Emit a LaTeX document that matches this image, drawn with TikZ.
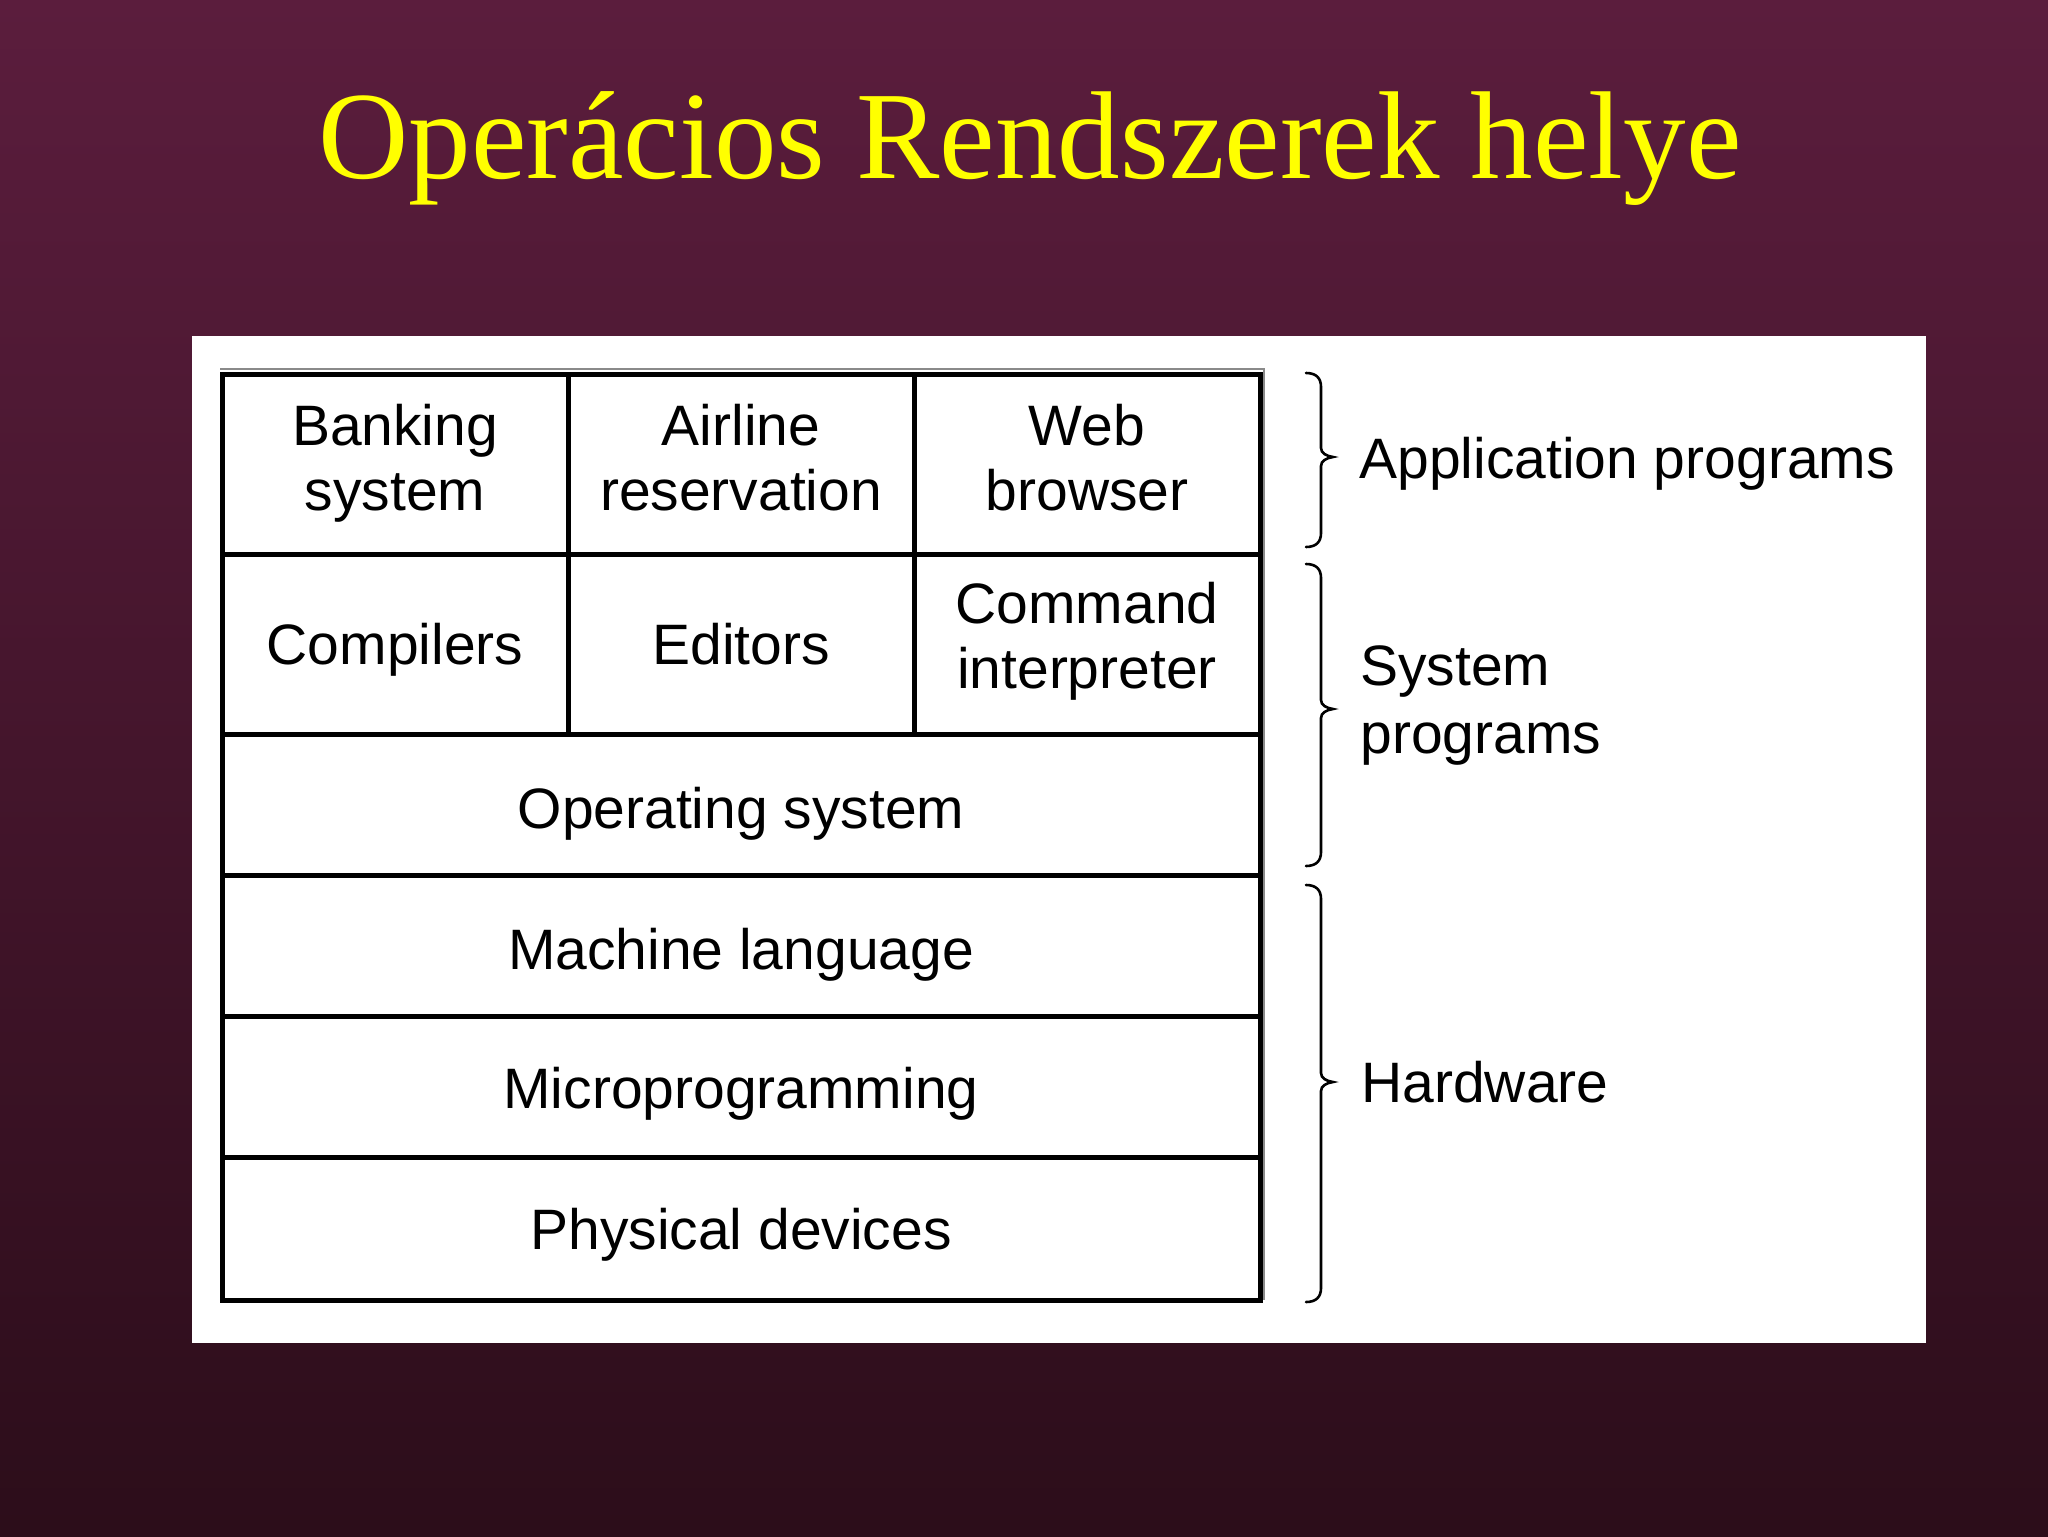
\documentclass[tikz,border=0pt]{standalone}
\usepackage{fontspec}
\setmainfont{Liberation Serif}
\newfontfamily\arialf{Liberation Sans}
\definecolor{bgtop}{HTML}{5B1D3D}
\definecolor{bgmid}{HTML}{46162E}
\definecolor{bgbot}{HTML}{2C0D1A}
\definecolor{titleyellow}{HTML}{FFFF00}
\definecolor{shadowgray}{HTML}{8A8A8A}
\newcommand\mybrace[3]{%
  \draw[bracestyle] (1306,#1) .. controls (1316,#1) and (1321,{#1+5}) .. (1321,{#1+14})
    -- (1321,{#2-9}) .. controls (1321,{#2-4}) and (1326,{#2-1}) .. (1333,#2)
    .. controls (1326,{#2+1}) and (1321,{#2+4}) .. (1321,{#2+9})
    -- (1321,{#3-14}) .. controls (1321,{#3-5}) and (1316,#3) .. (1306,#3);}
\begin{document}
\begin{tikzpicture}[x=0.5pt,y=-0.5pt,
  gridline/.style={line width=2.5pt,black},
  bracestyle/.style={line width=1.3pt,black,line cap=round},
  celltext/.style={anchor=base,inner sep=0pt,font=\arialf\fontsize{28.5}{32.5}\selectfont},
  sidelabel/.style={anchor=base west,inner sep=0pt,font=\arialf\fontsize{28.5}{34}\selectfont},
  titletext/.style={anchor=base,inner sep=0pt,text=titleyellow,font=\fontsize{62.5}{70}\selectfont}]
\useasboundingbox (0,0) rectangle (2048,1536);
\shade[top color=bgtop,middle color=bgmid,bottom color=bgbot] (0,0) rectangle (2048,1536);
\node[titletext] (title) at (1030,178) {Operácios Rendszerek helye};
% white panel
\fill[white] (192,336) rectangle (1926,1343);
% shadow edges
\draw[shadowgray,line width=1.2pt] (220,369) -- (1264,369) -- (1264,1300);
% grid
\draw[gridline] (222,374) rectangle (1260,1300);
\foreach \yy in {554,734,875,1016,1157} \draw[gridline] (222,\yy) -- (1260,\yy);
\foreach \xx in {568,914} \draw[gridline] (\xx,374) -- (\xx,734);
% cell texts
\node[celltext] (bank) at (395,445) {\begin{tabular}[t]{@{}c@{}}Banking\\system\end{tabular}};
\node[celltext] (air) at (741,445) {\begin{tabular}[t]{@{}c@{}}Airline\\reservation\end{tabular}};
\node[celltext] (web) at (1087,445) {\begin{tabular}[t]{@{}c@{}}Web\\browser\end{tabular}};
\node[celltext] (comp) at (395,664) {Compilers};
\node[celltext] (edit) at (741,664) {Editors};
\node[celltext] (cmd) at (1087,623) {\begin{tabular}[t]{@{}c@{}}Command\\interpreter\end{tabular}};
\node[celltext] (os) at (741,828) {Operating system};
\node[celltext] (ml) at (741,969) {Machine language};
\node[celltext] (mp) at (741,1108) {Microprogramming};
\node[celltext] (pd) at (741,1249) {Physical devices};
% braces
\mybrace{373}{457}{547}
\mybrace{564}{709}{866}
\mybrace{885}{1082}{1302}
% labels
\node[sidelabel] (app) at (1359,478) {Application programs};
\node[sidelabel] (sys) at (1360,685) {\begin{tabular}[t]{@{}l@{}}System\\programs\end{tabular}};
\node[sidelabel] (hw) at (1361,1102) {Hardware};
\end{tikzpicture}
\end{document}
